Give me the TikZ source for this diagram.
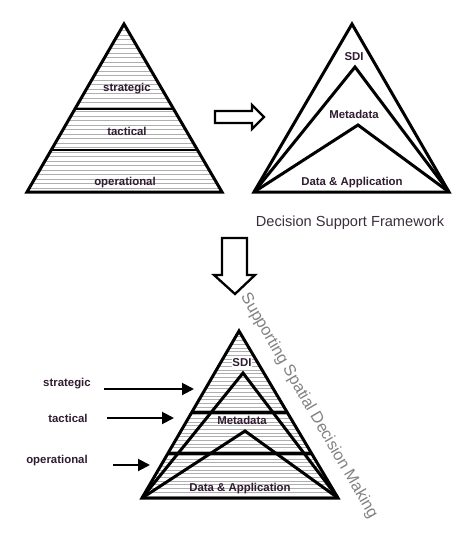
\documentclass[tikz,border=0pt]{standalone}
\usepackage{fontspec}
\setmainfont{Liberation Sans}
\usetikzlibrary{arrows.meta}
\definecolor{lbl}{RGB}{48,28,48}
\definecolor{cap}{RGB}{60,45,60}
\definecolor{rot}{RGB}{130,130,130}
\definecolor{hatch}{RGB}{175,175,175}
\begin{document}
\begin{tikzpicture}[x=1pt,y=-1pt,
  outline/.style={draw=black,line width=3pt,line join=miter},
  divider/.style={draw=black,line width=2.2pt},
  hatchline/.style={draw=hatch,line width=0.6pt},
  lab/.style={font=\bfseries\fontsize{11.4}{13}\selectfont,text=lbl,inner sep=0pt},
  blockarrow/.style={draw=black,line width=2.3pt,fill=white,line join=miter},
  ptr/.style={draw=black,line width=2pt,-{Triangle[length=12pt,width=12pt]}}]
\useasboundingbox (0,0) rectangle (474,550);
% ---------- top-left pyramid ----------
\coordinate (A1) at (124,24);
\coordinate (B1) at (27,192);
\coordinate (C1) at (222,192);
\begin{scope}
  \clip (A1) -- (B1) -- (C1) -- cycle;
  \foreach \y in {26,30.5,...,192} \draw[hatchline] (20,\y) -- (230,\y);
  \draw[divider] (20,109) -- (230,109);
  \draw[divider] (20,150) -- (230,150);
\end{scope}
\draw[outline] (A1) -- (B1) -- (C1) -- cycle;
\node[lab] (s1) at (127,89) {strategic};
\node[lab] (t1) at (127,131) {tactical};
\node[lab] (o1) at (125,183) {operational};
% ---------- right block arrow ----------
\draw[blockarrow] (215,111) -- (252,111) -- (252,105) -- (264,117) -- (252,129) -- (252,123) -- (215,123) -- cycle;
% ---------- top-right pyramid ----------
\coordinate (A2) at (352,24);
\coordinate (B2) at (254,192);
\coordinate (C2) at (449,192);
\coordinate (D2) at (355,67);
\coordinate (E2) at (358,125);
\draw[outline] (A2) -- (B2) -- (C2) -- cycle;
\draw[outline] (B2) -- (D2) -- (C2);
\draw[outline] (B2) -- (E2) -- (C2);
\node[lab] (sdi2) at (354,57) {SDI};
\node[lab] (m2) at (354,114) {Metadata};
\node[lab] (d2) at (352,183) {Data \& Application};
\node[font=\fontsize{14.6}{17}\selectfont,text=cap,inner sep=0pt] (dsf) at (350,223) {Decision Support Framework};
% ---------- down block arrow ----------
\draw[blockarrow] (222,238) -- (247,238) -- (247,275) -- (255,275) -- (235,294) -- (214,275) -- (222,275) -- cycle;
% ---------- bottom pyramid ----------
\coordinate (A3) at (239,331);
\coordinate (B3) at (142,498);
\coordinate (C3) at (338,498);
\coordinate (D3) at (243,373);
\coordinate (E3) at (245,431);
\begin{scope}
  \clip (A3) -- (B3) -- (C3) -- cycle;
  \foreach \y in {333,336.7,...,498} \draw[hatchline] (130,\y) -- (350,\y);
  \draw[outline] (130,412) -- (350,412);
  \draw[outline] (130,453) -- (350,453);
\end{scope}
\draw[outline] (B3) -- (D3) -- (C3);
\draw[outline] (B3) -- (E3) -- (C3);
\draw[outline] (A3) -- (B3) -- (C3) -- cycle;
\node[lab,fill=white,inner sep=0.5pt] (sdi3) at (242,363) {SDI};
\node[lab] (m3) at (242,420) {Metadata};
\node[lab] (d3) at (240,489) {Data \& Application};
% ---------- side labels and pointers ----------
\node[lab] (s3) at (67,384) {strategic};
\node[lab] (t3) at (68,418) {tactical};
\node[lab] (o3) at (57,461) {operational};
\coordinate (sa) at (104,389);
\coordinate (sb) at (194,389);
\coordinate (ta) at (107,418);
\coordinate (tb) at (174,418);
\coordinate (oa) at (113,465);
\coordinate (ob) at (150,465);
\draw[ptr] (sa) -- (sb);
\draw[ptr] (ta) -- (tb);
\draw[ptr] (oa) -- (ob);
% ---------- rotated caption ----------
\node[font=\fontsize{16.3}{19}\selectfont,text=rot,inner sep=0pt,rotate=-59.8] (sdm) at (309,406) {Supporting Spatial Decision Making};
\end{tikzpicture}
\end{document}
